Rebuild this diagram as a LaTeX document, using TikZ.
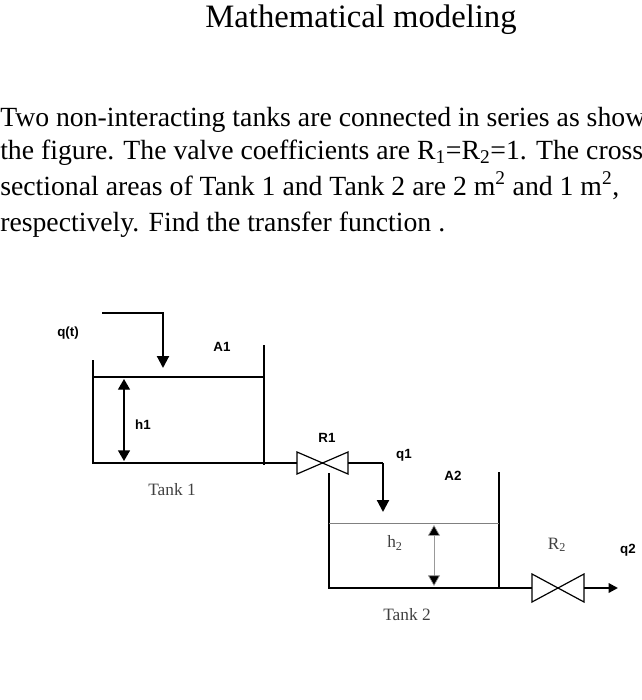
\documentclass[tikz,border=0pt]{standalone}
\usepackage{fontspec}
\setmainfont{Liberation Serif}
\newfontfamily\labfont{Liberation Sans}
\usetikzlibrary{arrows.meta,calc}
\begin{document}
\begin{tikzpicture}[x=0.75pt,y=-0.75pt,
  wall/.style={line width=1.6pt},
  thin/.style={line width=0.5pt,draw=gray},
  lab/.style={font=\labfont\bfseries\fontsize{10}{11}\selectfont},
  tlab/.style={font=\fontsize{13}{15}\selectfont,text=black!75},
  para/.style={anchor=base west,font=\fontsize{20.8}{24}\selectfont,inner sep=0pt},
  tip/.style={-{Triangle[length=9pt,width=9pt]}},
  tips/.style={{Triangle[length=8pt,width=9pt]}-{Triangle[length=8pt,width=9pt]}}]
\useasboundingbox (0,0) rectangle (642,700);
\clip (0,0) rectangle (642,700);
\node (title) at (361,20) {\fontsize{24.5}{28}\selectfont Mathematical modeling};
\node[para] (l1) at (0,126) {Two non-interacting tanks are connected in series as shown in};
\node[para] (l2) at (0,159) {the figure. The valve coefficients are R\textsubscript{1}=R\textsubscript{2}=1. The cross-};
\node[para] (l3) at (0,195) {sectional areas of Tank 1 and Tank 2 are 2 m\textsuperscript{2} and 1 m\textsuperscript{2},};
\node[para] (l4) at (0,231) {respectively. Find the transfer function .};
% coordinates
\coordinate (t1tl) at (93,360); \coordinate (t1bl) at (93,463);
\coordinate (t1tr) at (264,345); \coordinate (t1br) at (264,465);
\coordinate (v1l) at (297,463); \coordinate (v1r) at (348,463); \coordinate (v1c) at (322,463);
\coordinate (q1c) at (383,463); \coordinate (q1e) at (383,512);
\coordinate (t2tl) at (329,473); \coordinate (t2bl) at (329,588);
\coordinate (t2tr) at (499,472); \coordinate (t2br) at (499,588);
\coordinate (v2l) at (532,588); \coordinate (v2r) at (584,588); \coordinate (v2c) at (558,588);
\coordinate (q2e) at (618,588);
\coordinate (in0) at (102,313); \coordinate (in1) at (163,313); \coordinate (in2) at (163,368);
% tank 1
\draw[wall] (t1tl) -- (t1bl) -- (v1l);
\draw[wall] (t1tr) -- (t1br);
\draw[wall] (93,377) -- (264,377);
\draw[wall,tip] (in0) -- (in1) -- (in2);
\draw[line width=1pt,tips] (124,379) -- (124,461);
% valve 1
\draw[line width=0.9pt] ($(v1l)+(0,-11)$) -- ($(v1l)+(0,11)$) -- ($(v1r)+(0,-11)$) -- ($(v1r)+(0,11)$) -- cycle;
\draw[wall] (v1r) -- (q1c);
\draw[wall,tip] (q1c) -- (q1e);
% tank 2
\draw[wall] (t2tl) -- (t2bl) -- (t2br) -- (v2l);
\draw[wall] (t2tr) -- (t2br);
\draw[thin] (329,523) -- (499,523);
\draw[thin,draw=gray!80,{Triangle[length=8pt,width=9pt,fill=black]}-{Triangle[length=8pt,width=9pt,fill=black]}] (434,525) -- (434,586);
% valve 2
\draw[line width=0.9pt] ($(v2l)+(0,-14)$) -- ($(v2l)+(0,14)$) -- ($(v2r)+(0,-14)$) -- ($(v2r)+(0,14)$) -- cycle;
\draw[wall,-{Triangle[length=7pt,width=7pt]}] (v2r) -- (q2e);
% labels
\node[lab] (qt) at (68,333) {q(t)};
\node[lab] (a1) at (222,347) {A1};
\node[lab] (h1) at (143,425) {h1};
\node[lab] (r1) at (327,438) {R1};
\node[lab] (q1) at (404,455) {q1};
\node[lab] (a2) at (453,476) {A2};
\node[lab] (q2) at (628,550) {q2};
\node[tlab] (t1) at (172,490) {Tank 1};
\node[tlab] (t2) at (407,615) {Tank 2};
\node[tlab] (h2) at (395,543) {h\textsubscript{2}};
\node[tlab] (r2) at (557,545) {R\textsubscript{2}};
\end{tikzpicture}
\end{document}
